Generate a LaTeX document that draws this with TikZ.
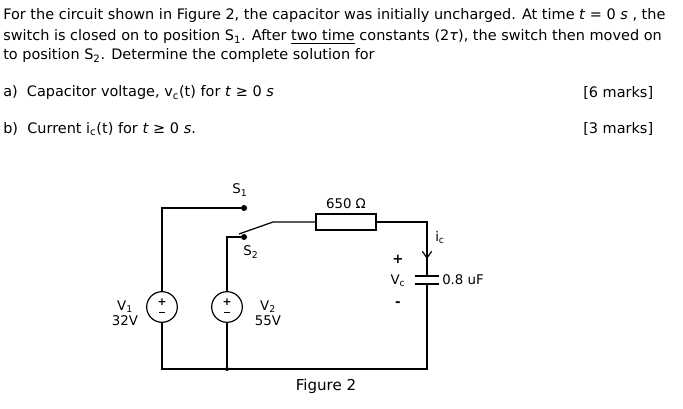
\documentclass[tikz,border=0pt]{standalone}
\usepackage{fontspec}
\setmainfont{DejaVu Sans}
\usetikzlibrary{positioning,arrows.meta}
\tikzset{
  wire/.style={line width=0.9pt},
  txt/.style={anchor=west, inner sep=0pt, font=\fontsize{10.85pt}{13pt}\selectfont},
  lbl/.style={inner sep=0pt, font=\fontsize{10pt}{11pt}\selectfont},
  dot/.style={circle, fill, inner sep=0pt, minimum size=4.5pt},
  src/.style={circle, draw, line width=0.9pt, minimum size=23pt, inner sep=0pt}
}
\newcommand{\tv}{\textit{t}}
\begin{document}
\begin{tikzpicture}[x=0.75pt, y=-0.75pt]
  \useasboundingbox (0,0) rectangle (683,409);
  % Texto
  \node[txt] (l1) at (3,16) {For the circuit shown in Figure 2, the capacitor was initially uncharged. At time \tv\ = 0 \textit{s} , the};
  \node[txt] (l2) at (3,37) {switch is closed on to position S\textsubscript{1}. After \underline{two time} constants (2\textit{τ}), the switch then moved on};
  \node[txt] (l3) at (3,56) {to position S\textsubscript{2}. Determine the complete solution for};
  \node[txt] (qa) at (3,93) {a)\ \ Capacitor voltage, v\textsubscript{c}(t) for \tv\ ≥ 0 \textit{s}};
  \node[txt] (ma) at (583,93) {[6 marks]};
  \node[txt] (qb) at (3,129) {b)\ \ Current i\textsubscript{c}(t) for \tv\ ≥ 0 \textit{s}.};
  \node[txt] (mb) at (583,129) {[3 marks]};

  % Nodos del circuito
  \coordinate (tl) at (162,208);
  \coordinate (bl) at (162,369);
  \coordinate (br) at (427,369);
  \coordinate (tr) at (427,222);
  \coordinate (m2) at (227,237);
  \coordinate (arm) at (273,222);
  \node[dot] (s1) at (244,208) {};
  \node[dot] (s2) at (244,237) {};
  \node[dot, minimum size=3pt] (jb) at (227,369) {};
  \node[src] (v1) at (162,307) {};
  \node[src] (v2) at (227,307) {};
  \node[draw, line width=0.9pt, minimum width=45pt, minimum height=12pt, inner sep=0pt] (r) at (346,222) {};

  % Cables
  \draw[wire] (s1) -- (tl) -- (v1.north);
  \draw[wire] (v1.south) -- (bl) -- (br) -- (427,284);
  \draw[wire] (s2) -- (m2) -- (v2.north);
  \draw[wire] (v2.south) -- (jb);
  \draw[wire] (239,234) -- (arm) -- (r.west);
  \draw[wire] (r.east) -- (tr) -- (427,276);
  \draw[wire, -{Straight Barb[length=5pt,width=7pt]}] (427,244) -- (427,259);
  % Capacitor
  \draw[wire] (415,276) -- (439,276);
  \draw[wire] (415,284) -- (439,284);
  % Signos de fuentes
  \foreach \s in {v1,v2}{
    \node[lbl, font=\fontsize{8pt}{8pt}\selectfont\bfseries] at ([yshift=4pt]\s.center) {+};
    \draw[line width=0.7pt] ([yshift=-4pt,xshift=-2pt]\s.center) -- ([yshift=-4pt,xshift=2pt]\s.center);
  }

  % Etiquetas
  \node[lbl] (ls1) at (240,190) {S\textsubscript{1}};
  \node[lbl] (ls2) at (251,252) {S\textsubscript{2}};
  \node[lbl] (lr) at (346,204) {650 Ω};
  \node[lbl] (lic) at (440,238) {i\textsubscript{c}};
  \node[lbl] (lp) at (398,259) {\bfseries +};
  \node[lbl] (lvc) at (398,281) {V\textsubscript{c}};
  \node[lbl] (lm) at (398,304) {\bfseries -};
  \node[lbl, anchor=west] (lcv) at (442,280) {0.8 uF};
  \node[lbl, align=center] (lv1) at (125,313) {V\textsubscript{1}\\32V};
  \node[lbl, align=center] (lv2) at (268,313) {V\textsubscript{2}\\55V};
  \node[lbl, font=\fontsize{11.3pt}{12pt}\selectfont] (fig) at (326,386) {Figure 2};
\end{tikzpicture}
\end{document}
